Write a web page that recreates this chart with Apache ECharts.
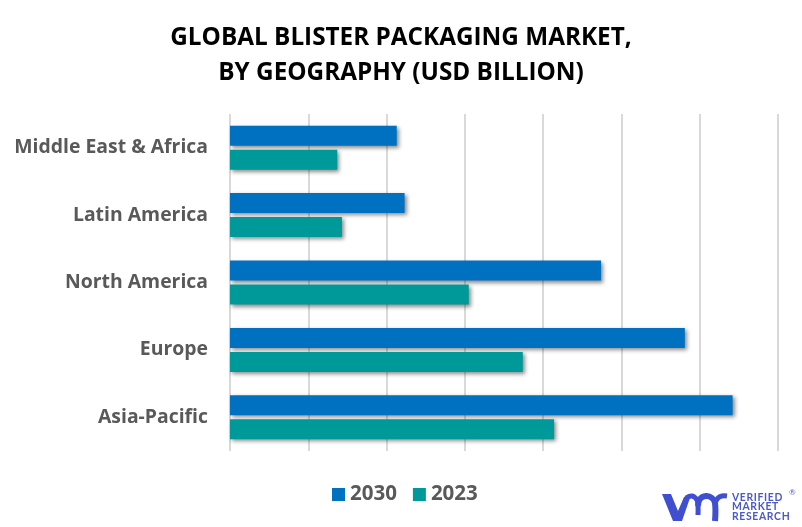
<!DOCTYPE html>
<html>
<head>
<meta charset="utf-8">
<title>Global Blister Packaging Market</title>
<script src="https://cdn.jsdelivr.net/npm/echarts@6/dist/echarts.min.js"></script>
<style>
html,body{margin:0;padding:0;background:#fff}
#main{width:802px;height:527px}
</style>
</head>
<body>
<div id="main"></div>
<script>
var categories = ['Middle East & Africa','Latin America','North America','Europe','Asia-Pacific']
var values2030 = [2.13,2.23,4.74,5.81,6.42]
var values2023 = [1.37,1.43,3.05,3.74,4.14]
var seriesNames = ['2030','2023']
var colors = ['#0070c0','#009999']
var logoColor = '#3f4fd0'
var font = '"Open Sans"'

var chart = echarts.init(document.getElementById('main'))

function barStyle(color){
    return {
        color: color,
        shadowColor: 'rgba(0,0,0,0.45)',
        shadowBlur: 4,
        shadowOffsetX: 2,
        shadowOffsetY: 2
    }
}

//logo text line
function logoText(str,y){
    return {
        type: 'text',
        x: 732,
        y: y,
        style: {text: str.split('').join('\u200A'), fontFamily: 'Lato', fontSize: 10.4, fontWeight: 700, fill: '#4a58cc'}
    }
}

//logo arc
function logoArc(points,width){
    return {
        type: 'polyline',
        shape: {points: points, smooth: 0.4},
        style: {stroke: logoColor, fill: null, lineWidth: width}
    }
}

var option = {
    animation: false,
    backgroundColor: '#fff',
    color: colors,
    title: {
        text: 'GLOBAL BLISTER PACKAGING MARKET,\nBY GEOGRAPHY (USD BILLION)',
        left: 396,
        top: 16,
        textAlign: 'center',
        textStyle: {
            fontFamily: font,
            fontSize: 24.3,
            fontWeight: 700,
            color: '#000',
            lineHeight: 35
        }
    },
    legend: {
        data: seriesNames,
        left: 327,
        top: 479,
        itemWidth: 13,
        itemHeight: 13,
        itemGap: 16,
        icon: 'rect',
        textStyle: {
            fontFamily: font,
            fontSize: 20.5,
            fontWeight: 700,
            color: '#595959'
        }
    },
    grid: {
        left: 230,
        right: 24,
        top: 114,
        bottom: 76
    },
    xAxis: {
        type: 'value',
        min: 0,
        max: 7,
        interval: 1,
        axisLine: {show: false},
        axisTick: {show: false},
        axisLabel: {show: false},
        splitLine: {
            show: true,
            lineStyle: {color: '#d9d9d9', width: 2}
        }
    },
    yAxis: {
        type: 'category',
        inverse: true,
        data: categories,
        axisLine: {show: false},
        axisTick: {show: false},
        axisLabel: {
            margin: 22,
            padding: [4,0,0,0],
            fontFamily: font,
            fontSize: 19.4,
            fontWeight: 700,
            color: '#595959'
        }
    },
    series: [
        {
            name: seriesNames[0],
            type: 'bar',
            data: values2030,
            barWidth: 20,
            barGap: '20%',
            itemStyle: barStyle(colors[0])
        },
        {
            name: seriesNames[1],
            type: 'bar',
            data: values2023,
            barWidth: 20,
            barGap: '20%',
            itemStyle: barStyle(colors[1])
        }
    ],
    graphic: [
        // logo
        {
            type: 'polygon',
            shape: {points: [[662,494],[671,494],[678,511],[684,497],[691,495],[682,521],[673,521]]},
            style: {fill: logoColor}
        },
        logoArc([[686,498],[692,496],[697,500],[698,506],[698,515]],5),
        logoArc([[698,506],[700,499],[706,496],[712,498],[715,503],[715,521]],6),
        logoArc([[715,503],[718,498],[722,496],[727,496]],5),
        logoText('VERIFIED',492.5),
        logoText('MARKET',502),
        logoText('RESEARCH',511.5),
        {
            type: 'text',
            x: 789,
            y: 488,
            style: {text: '®', fontFamily: 'Lato', fontSize: 8, fill: '#4a58cc'}
        }
    ]
}
chart.setOption(option)
</script>
</body>
</html>
